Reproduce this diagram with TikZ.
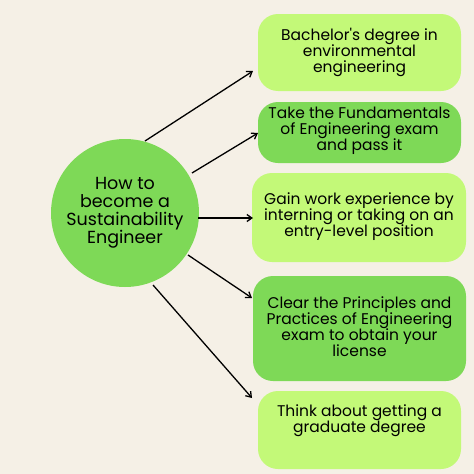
\documentclass[tikz,border=0pt]{standalone}
\usepackage{fontspec}
\setmainfont{Poppins}
\usetikzlibrary{arrows.meta}
\definecolor{bg}{HTML}{F5F0E6}
\definecolor{dgreen}{HTML}{7ED957}
\definecolor{lgreen}{HTML}{C3F978}
\begin{document}
\begin{tikzpicture}[x=1pt,y=-1pt,
  box/.style={draw=none, align=center, font=\fontsize{15.5}{16}\selectfont, inner sep=0pt},
  conn/.style={-{Straight Barb[length=5pt,width=7pt]}, line width=1.3pt, black}]
\fill[bg] (0,0) rectangle (474,474);
\useasboundingbox (0,0) rectangle (474,474);
% boxes
\fill[lgreen, rounded corners=20pt] (258,14) rectangle (461,91);
\node[box] (b1) at (359.5,52) {Bachelor\textquotesingle s degree in\\environmental\\engineering};
\fill[dgreen, rounded corners=20pt] (258,102) rectangle (461,163);
\node[box] (b2) at (359.5,131) {Take the Fundamentals\\of Engineering exam\\and pass it};
\fill[lgreen, rounded corners=20pt] (252,173) rectangle (466,262);
\node[box] (b3) at (359,217) {Gain work experience by\\interning or taking on an\\entry-level position};
\fill[dgreen, rounded corners=20pt] (253,276) rectangle (466,381);
\node[box] (b4) at (359.5,327) {Clear the Principles and\\Practices of Engineering\\exam to obtain your\\license};
\fill[lgreen, rounded corners=20pt] (258,391) rectangle (461,469);
\node[box] (b5) at (359.5,421) {Think about getting a\\graduate degree};
% circle
\node[circle, fill=dgreen, minimum size=148pt, inner sep=0pt, align=center, font=\fontsize{17.5}{18}\selectfont] (c) at (125,213) {How to\\become a\\Sustainability\\Engineer};
% connector endpoints
\coordinate (s1) at (145,141); \coordinate (e1) at (253,71);
\coordinate (s2) at (192,173); \coordinate (e2) at (258,133);
\coordinate (s3) at (198,218); \coordinate (e3) at (253,218);
\coordinate (s4) at (188,255); \coordinate (e4) at (252,298);
\coordinate (s5) at (153,285); \coordinate (e5) at (252,398);
\draw[conn] (s1) -- (e1);
\draw[conn] (s2) -- (e2);
\draw[conn] (s3) -- (e3);
\draw[conn] (s4) -- (e4);
\draw[conn] (s5) -- (e5);
\end{tikzpicture}
\end{document}
